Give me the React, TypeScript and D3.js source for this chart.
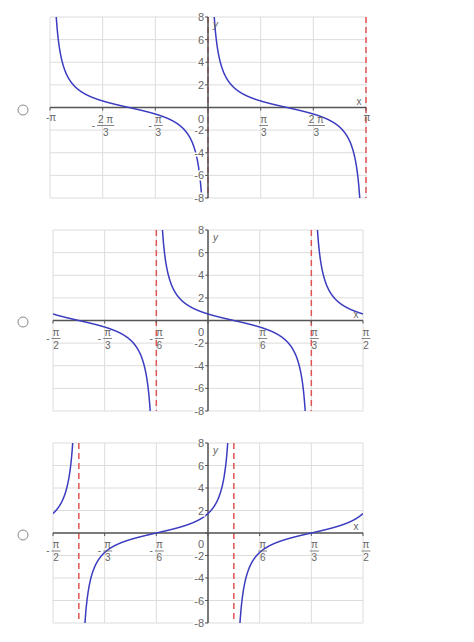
import React, { useRef, useEffect } from 'react';
import * as d3 from 'd3';

const PI = Math.PI;

// one entry per answer option, top to bottom
const curveKinds = ['cot', 'cot', 'tan'];
const curveFreq = [1, 2, 2];
const curvePhase = [0, PI / 3, PI / 3];
const xMinPi = [-1, -0.5, -0.5];
const xMaxPi = [1, 0.5, 0.5];
const xStepPi = [1 / 3, 1 / 6, 1 / 6];
const asymptotesPi = [[0, 1], [-1 / 6, 1 / 3], [-5 / 12, 1 / 12]];
const xTickLabels = [
  ['-π', '-2 π/3', '-π/3', '', 'π/3', '2 π/3', 'π'],
  ['-π/2', '-π/3', '-π/6', '', 'π/6', 'π/3', 'π/2'],
  ['-π/2', '-π/3', '-π/6', '', 'π/6', 'π/3', 'π/2'],
];
const yTicks = [-8, -6, -4, -2, 2, 4, 6, 8];
const yDomain = [-8, 8];

// pixel boxes of the three plots
const boxes = [
  { left: 50, right: 366, top: 17, bottom: 198, radioY: 110 },
  { left: 53, right: 363, top: 230, bottom: 411, radioY: 322 },
  { left: 53, right: 363, top: 443, bottom: 623, radioY: 535 },
];

const W = 474;
const H = 642;

const App: React.FC = () => {
  const svgRef = useRef<SVGSVGElement>(null);

  useEffect(() => {
    if (!svgRef.current) return;
    const svg = d3.select(svgRef.current);
    svg.selectAll('*').remove();
    const defs = svg.append('defs');
    const font = 'Arial, "Liberation Sans", sans-serif';
    const labelColor = '#666';

    boxes.forEach((b, i) => {
      const x = d3.scaleLinear().domain([xMinPi[i] * PI, xMaxPi[i] * PI]).range([b.left, b.right]);
      const y = d3.scaleLinear().domain(yDomain).range([b.bottom, b.top]);
      const g = svg.append('g');

      // radio button
      svg.append('circle')
        .attr('cx', 23).attr('cy', b.radioY).attr('r', 5)
        .attr('fill', '#fff').attr('stroke', '#888').attr('stroke-width', 1);

      const clipId = `clip-${i}`;
      defs.append('clipPath').attr('id', clipId)
        .append('rect')
        .attr('x', b.left).attr('y', b.top)
        .attr('width', b.right - b.left).attr('height', b.bottom - b.top);

      // grid
      const nSteps = Math.round((xMaxPi[i] - xMinPi[i]) / xStepPi[i]);
      const xGrid = d3.range(nSteps + 1).map(k => (xMinPi[i] + k * xStepPi[i]) * PI);
      const yGrid = d3.range(yDomain[0], yDomain[1] + 1, 2);
      g.selectAll('.vg').data(xGrid).enter().append('line')
        .attr('x1', d => x(d)).attr('x2', d => x(d))
        .attr('y1', b.top).attr('y2', b.bottom)
        .attr('stroke', '#dcdcdc').attr('stroke-width', 1);
      g.selectAll('.hg').data(yGrid).enter().append('line')
        .attr('x1', b.left).attr('x2', b.right)
        .attr('y1', d => y(d)).attr('y2', d => y(d))
        .attr('stroke', '#dcdcdc').attr('stroke-width', 1);

      // asymptotes
      g.selectAll('.asym').data(asymptotesPi[i]).enter().append('line')
        .attr('x1', d => x(d * PI)).attr('x2', d => x(d * PI))
        .attr('y1', b.top).attr('y2', b.bottom)
        .attr('stroke', '#e05555').attr('stroke-width', 1.5)
        .attr('stroke-dasharray', '6,4');

      // axes
      const x0 = x(0);
      const y0 = y(0);
      g.append('line')
        .attr('x1', b.left).attr('x2', b.right).attr('y1', y0).attr('y2', y0)
        .attr('stroke', '#555').attr('stroke-width', 1.5);
      g.append('line')
        .attr('x1', x0).attr('x2', x0).attr('y1', b.top).attr('y2', b.bottom)
        .attr('stroke', '#555').attr('stroke-width', 1.5);
      g.selectAll('.yt').data(yGrid).enter().append('line')
        .attr('x1', x0 - 3).attr('x2', x0).attr('y1', d => y(d)).attr('y2', d => y(d))
        .attr('stroke', '#555').attr('stroke-width', 1);
      g.selectAll('.xt').data(xGrid).enter().append('line')
        .attr('x1', d => x(d)).attr('x2', d => x(d)).attr('y1', y0).attr('y2', y0 + 3)
        .attr('stroke', '#555').attr('stroke-width', 1);

      // curve
      const kind = curveKinds[i];
      const f = (t: number) => {
        const a = curveFreq[i] * t + curvePhase[i];
        return kind === 'tan' ? Math.tan(a) : Math.cos(a) / Math.sin(a);
      };
      const samples = d3.range(0, 3001).map(k => {
        const t = xMinPi[i] * PI + (k / 3000) * (xMaxPi[i] - xMinPi[i]) * PI;
        return [t, f(t)] as [number, number];
      });
      const line = d3.line<[number, number]>()
        .defined(d => isFinite(d[1]) && Math.abs(d[1]) < 60)
        .x(d => x(d[0])).y(d => y(d[1]));
      g.append('path')
        .attr('d', line(samples))
        .attr('clip-path', `url(#${clipId})`)
        .attr('fill', 'none').attr('stroke', '#3c3cc0').attr('stroke-width', 1.5);

      // y tick labels
      g.selectAll('.yl').data(yTicks).enter().append('text')
        .attr('x', x0 - 4).attr('y', d => y(d) + 4)
        .attr('text-anchor', 'end')
        .attr('font-family', font).attr('font-size', 11)
        .attr('fill', labelColor)
        .attr('stroke', '#fff').attr('stroke-width', 3).attr('paint-order', 'stroke')
        .text(d => String(d));
      g.append('text')
        .attr('x', x0 - 4).attr('y', y0 + 15)
        .attr('text-anchor', 'end')
        .attr('font-family', font).attr('font-size', 11)
        .attr('fill', labelColor).text('0');

      // x tick labels
      xTickLabels[i].forEach((lab, k) => {
        if (!lab) return;
        const cx = x(xGrid[k]);
        const neg = lab.startsWith('-');
        const body = neg ? lab.slice(1) : lab;
        if (!body.includes('/')) {
          g.append('text')
            .attr('x', cx + 1).attr('y', y0 + 13)
            .attr('text-anchor', 'middle')
            .attr('font-family', font).attr('font-size', 10)
            .attr('fill', labelColor)
            .text(lab);
          return;
        }
        const [num, den] = body.split('/');
        const fc = cx + 3;
        const numText = g.append('text')
          .attr('x', fc).attr('y', y0 + 15)
          .attr('text-anchor', 'middle')
          .attr('font-family', font).attr('font-size', 10)
          .attr('fill', labelColor).text(num);
        const nw = (numText.node() as SVGTextElement).getComputedTextLength();
        g.append('line')
          .attr('x1', fc - nw / 2 - 1).attr('x2', fc + nw / 2 + 1)
          .attr('y1', y0 + 18).attr('y2', y0 + 18)
          .attr('stroke', labelColor).attr('stroke-width', 0.8);
        g.append('text')
          .attr('x', fc).attr('y', y0 + 28)
          .attr('text-anchor', 'middle')
          .attr('font-family', font).attr('font-size', 10)
          .attr('fill', labelColor).text(den);
        if (neg) {
          g.append('text')
            .attr('x', fc - nw / 2 - 3).attr('y', y0 + 21)
            .attr('text-anchor', 'end')
            .attr('font-family', font).attr('font-size', 10)
            .attr('fill', labelColor).text('-');
        }
      });

      // axis names
      g.append('text')
        .attr('x', b.right - 7).attr('y', y0 - 3)
        .attr('text-anchor', 'middle')
        .attr('font-family', font).attr('font-size', 10)
        .attr('fill', labelColor).text('x');
      g.append('text')
        .attr('x', x0 + 5).attr('y', b.top + 11)
        .attr('font-family', font).attr('font-size', 10)
        .attr('font-style', 'italic')
        .attr('fill', labelColor).text('y');
    });
  }, []);

  return (
    <svg
      ref={svgRef}
      width={W}
      height={H}
      style={{ position: 'absolute', left: 0, top: 0, background: '#fff' }}
    />
  );
};

export default App;
